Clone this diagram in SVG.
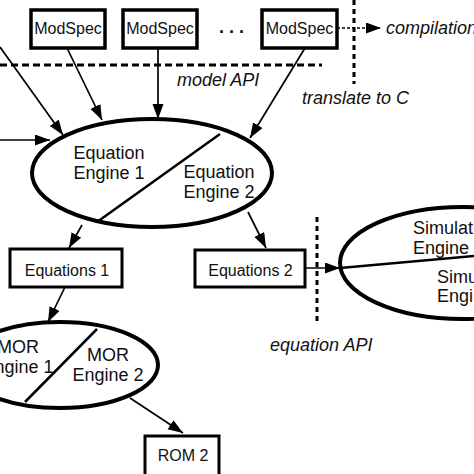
<svg xmlns="http://www.w3.org/2000/svg" width="474" height="474" viewBox="0 0 474 474">
<style>
.box{fill:#fff;stroke:#000;stroke-width:3.5}
.ell{fill:#fff;stroke:#000;stroke-width:4}
.div{stroke:#000;stroke-width:2.5;fill:none}
.t{font-family:"Liberation Sans",Arial,sans-serif;fill:#111}
.n{font-size:18px}
.b{font-size:16px}
.i{font-size:18px;font-style:italic}
.a{stroke:#000;stroke-width:1.7;fill:none;marker-end:url(#ah)}
.dash{stroke:#000;stroke-width:3;fill:none}
</style>
<defs>
<marker id="ah" markerUnits="userSpaceOnUse" markerWidth="16" markerHeight="12" refX="15" refY="5.500" orient="auto">
<path d="M0,0 L15,5.500 L0,11 z" fill="#000"/>
</marker>
</defs>
<rect width="474" height="474" fill="#fff"/>
<g id="guides">
<line class="dash" x1="0" y1="65" x2="322" y2="65" stroke-dasharray="7 4"/>
<line class="dash" x1="354" y1="0" x2="354" y2="84" stroke-dasharray="5 4"/>
<line class="dash" x1="317" y1="217" x2="317" y2="324" stroke-dasharray="5 4"/>
<text class="t i" x="177" y="86">model API</text>
<text class="t i" x="302" y="104">translate to C</text>
<text class="t i" x="386" y="34">compilation</text>
<text class="t i" x="270" y="351">equation API</text>
<text class="t" x="219" y="33" style="font-size:18px;font-weight:bold">. . .</text>
</g>
<g id="connectors">
<line class="a" x1="0" y1="47" x2="63" y2="135"/>
<line class="a" x1="0" y1="140" x2="50" y2="140"/>
<line class="a" x1="67" y1="48" x2="102" y2="120"/>
<line class="a" x1="158" y1="48" x2="158" y2="119"/>
<line class="a" x1="305" y1="48" x2="250" y2="138"/>
<line class="a" x1="337" y1="28" x2="381" y2="28" stroke-dasharray="3 2"/>
<line class="a" x1="82" y1="225" x2="69" y2="248"/>
<line class="a" x1="248" y1="212" x2="266" y2="248"/>
<line class="a" x1="65" y1="287" x2="48" y2="322"/>
<line class="a" x1="130" y1="398" x2="183" y2="433"/>
<line class="a" x1="305" y1="268" x2="340" y2="268"/>
</g>
<g id="modspec1">
<rect class="box" x="31" y="10" width="74" height="38"/>
<text class="t b" x="68" y="34" text-anchor="middle">ModSpec</text>
</g>
<g id="modspec2">
<rect class="box" x="123" y="10" width="74" height="38"/>
<text class="t b" x="160" y="34" text-anchor="middle">ModSpec</text>
</g>
<g id="modspec3">
<rect class="box" x="262" y="10" width="75" height="38"/>
<text class="t b" x="299.500" y="34" text-anchor="middle">ModSpec</text>
</g>
<g id="equation-engine">
<ellipse class="ell" cx="152" cy="173" rx="120" ry="54"/>
<line class="div" x1="220" y1="134" x2="97" y2="222"/>
<text class="t n" x="109" y="159" text-anchor="middle">Equation</text>
<text class="t n" x="109" y="179" text-anchor="middle">Engine 1</text>
<text class="t n" x="219" y="178" text-anchor="middle">Equation</text>
<text class="t n" x="219" y="198" text-anchor="middle">Engine 2</text>
</g>
<g id="equations1">
<rect class="box" x="10" y="249" width="112" height="38" style="stroke-width:3"/>
<text class="t b" x="67" y="276" text-anchor="middle">Equations 1</text>
</g>
<g id="equations2">
<rect class="box" x="195" y="250" width="110" height="37" style="stroke-width:3"/>
<text class="t b" x="250.500" y="276" text-anchor="middle">Equations 2</text>
</g>
<g id="simulation-engine">
<ellipse class="ell" cx="463" cy="263" rx="123" ry="56"/>
<line class="div" x1="340" y1="268" x2="474" y2="256"/>
<text class="t n" x="413" y="234">Simulation</text>
<text class="t n" x="413" y="254">Engine 1</text>
<text class="t n" x="437" y="283">Simulation</text>
<text class="t n" x="437" y="302">Engine 2</text>
</g>
<g id="mor-engine">
<ellipse class="ell" cx="60" cy="365" rx="98" ry="43"/>
<line class="div" x1="97" y1="329" x2="25" y2="402"/>
<text class="t n" x="18" y="353" text-anchor="middle">MOR</text>
<text class="t n" x="18" y="373" text-anchor="middle">Engine 1</text>
<text class="t n" x="108" y="361" text-anchor="middle">MOR</text>
<text class="t n" x="108" y="381" text-anchor="middle">Engine 2</text>
</g>
<g id="rom2">
<rect class="box" x="145" y="436" width="74" height="44" style="stroke-width:3"/>
<text class="t b" x="183" y="461" text-anchor="middle">ROM 2</text>
</g>
</svg>
